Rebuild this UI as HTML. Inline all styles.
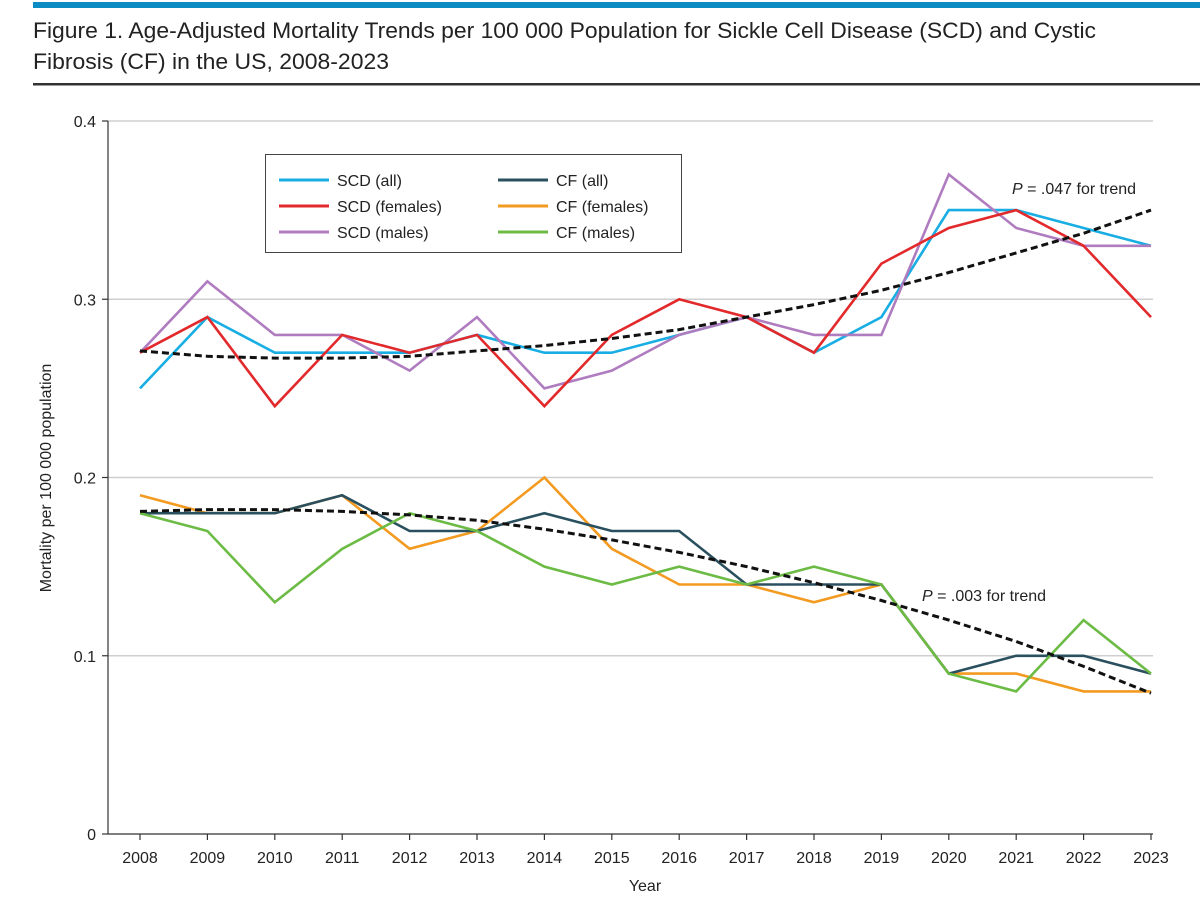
<!DOCTYPE html>
<html><head><meta charset="utf-8"><style>
html,body{margin:0;padding:0;background:#fff;}
svg{display:block;font-family:"Liberation Sans",sans-serif;}
</style></head><body>
<svg id="chart" width="1200" height="910" viewBox="0 0 1200 910">
<rect x="33" y="2" width="1167" height="6" fill="#0b8dc4"/>
<text x="33" y="38" font-size="22" fill="#222" textLength="1063" lengthAdjust="spacingAndGlyphs">Figure 1. Age-Adjusted Mortality Trends per 100 000 Population for Sickle Cell Disease (SCD) and Cystic</text>
<text x="33" y="69" font-size="22" fill="#222" textLength="356" lengthAdjust="spacingAndGlyphs">Fibrosis (CF) in the US, 2008-2023</text>
<rect x="33" y="83" width="1167" height="2.5" fill="#333"/>
<g id="grid"></g><g id="axes"></g><g id="series"></g>
<g>
<rect x="265.5" y="154.5" width="416" height="98" fill="#fff" stroke="#444" stroke-width="1"/>
</g>
<g id="legend-items"></g>
<text x="1012" y="194" font-size="16" fill="#222"><tspan font-style="italic">P</tspan> = .047 for trend</text>
<text x="922" y="601" font-size="16" fill="#222"><tspan font-style="italic">P</tspan> = .003 for trend</text>
<text transform="translate(51,478) rotate(-90)" text-anchor="middle" font-size="16" fill="#222">Mortality per 100 000 population</text>
<text x="645" y="891" text-anchor="middle" font-size="16" fill="#222">Year</text>
</svg>
<script>
const years=[2008,2009,2010,2011,2012,2013,2014,2015,2016,2017,2018,2019,2020,2021,2022,2023];
const yTicks=[0,0.1,0.2,0.3,0.4];
const yTickLabels=["0","0.1","0.2","0.3","0.4"];
const scdAll=[.25,.29,.27,.27,.27,.28,.27,.27,.28,.29,.27,.29,.35,.35,.34,.33];
const scdFemales=[.27,.29,.24,.28,.27,.28,.24,.28,.30,.29,.27,.32,.34,.35,.33,.29];
const scdMales=[.27,.31,.28,.28,.26,.29,.25,.26,.28,.29,.28,.28,.37,.34,.33,.33];
const cfAll=[.18,.18,.18,.19,.17,.17,.18,.17,.17,.14,.14,.14,.09,.10,.10,.09];
const cfFemales=[.19,.18,.18,.19,.16,.17,.20,.16,.14,.14,.13,.14,.09,.09,.08,.08];
const cfMales=[.18,.17,.13,.16,.18,.17,.15,.14,.15,.14,.15,.14,.09,.08,.12,.09];
const scdTrend=[.271,.268,.267,.267,.268,.271,.274,.278,.283,.290,.297,.305,.315,.326,.337,.350];
const cfTrend=[.181,.182,.182,.181,.179,.176,.171,.165,.158,.150,.141,.131,.120,.108,.094,.079];
const NS="http://www.w3.org/2000/svg";
const x=yr=>140+(yr-2008)*(1151-140)/15;
const y=v=>834-v*(834-121)/0.4;
function mk(tag,attrs,parent){const e=document.createElementNS(NS,tag);for(const k in attrs)e.setAttribute(k,attrs[k]);parent.appendChild(e);return e;}
const grid=document.getElementById('grid'),axes=document.getElementById('axes'),series=document.getElementById('series'),leg=document.getElementById('legend-items');
yTicks.forEach((t,i)=>{
 if(t>0){const g=mk('line',{x1:108,x2:1153,y1:y(t),y2:y(t),stroke:'#cfcfcf','stroke-width':1.5},grid);
 
 }
 const tk=mk('line',{x1:102,x2:108,y1:y(t),y2:y(t),stroke:'#333','stroke-width':1.2},axes);
 
 
 const lb=mk('text',{x:96,y:y(t)+6,'text-anchor':'end','font-size':16,fill:'#222'},axes);lb.textContent=yTickLabels[i];
 
 
});
const ya=mk('line',{x1:108,x2:108,y1:121,y2:834,stroke:'#333','stroke-width':1.2},axes);


const xa=mk('line',{x1:108,x2:1153,y1:834,y2:834,stroke:'#333','stroke-width':1.2},axes);


years.forEach(yr=>{
 const tk=mk('line',{x1:x(yr),x2:x(yr),y1:834,y2:840,stroke:'#333','stroke-width':1.2},axes);
 
 
 const lb=mk('text',{x:x(yr),y:863,'text-anchor':'middle','font-size':16,fill:'#222'},axes);lb.textContent=yr;
 
 
});
function pts(arr){return arr.map((v,i)=>x(years[i]).toFixed(1)+','+y(v).toFixed(1)).join(' ');}
const defs=[
 ['cf-females-line',cfFemales,'#f39a21'],['cf-all-line',cfAll,'#2a5060'],['cf-males-line',cfMales,'#6cbb45'],
 ['scd-all-line',scdAll,'#18aee3'],['scd-males-line',scdMales,'#b07cc0'],['scd-females-line',scdFemales,'#e2292b']];
defs.forEach(d=>{
 const p=mk('polyline',{points:pts(d[1]),fill:'none',stroke:d[2],'stroke-width':2.6,'stroke-linejoin':'miter'},series);
 
 
});
[['scd-trend-line',scdTrend],['cf-trend-line',cfTrend]].forEach(d=>{
 const p=mk('polyline',{points:pts(d[1]),fill:'none',stroke:'#111','stroke-width':3,'stroke-dasharray':'7,4'},series);
 
 
});
const legItems=[['SCD (all)','#18aee3',279,180],['SCD (females)','#e2292b',279,206],['SCD (males)','#b07cc0',279,232],
 ['CF (all)','#2a5060',498,180],['CF (females)','#f39a21',498,206],['CF (males)','#6cbb45',498,232]];
legItems.forEach(l=>{
 const g=mk('g',{},leg);
 
 
 mk('line',{x1:l[2],x2:l[2]+50,y1:l[3],y2:l[3],stroke:l[1],'stroke-width':3},g);
 const t=mk('text',{x:l[2]+58,y:l[3]+6,'font-size':16,fill:'#222'},g);t.textContent=l[0];
});
</script>
</body></html>
